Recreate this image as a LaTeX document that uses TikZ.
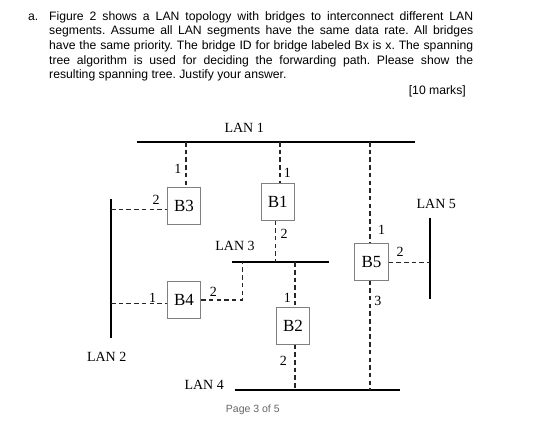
\documentclass[tikz,border=0pt]{standalone}
\usepackage{fontspec}
\setmainfont{Liberation Serif}
\newfontfamily\arialf{Liberation Sans}
\frenchspacing
\begin{document}
\begin{tikzpicture}[x=1pt,y=-1pt,
  lan/.style={line width=2pt},
  link/.style={line width=1.2pt, dash pattern=on 4.5pt off 3.2pt, draw=black!85},
  bridge/.style={draw=black!50, line width=0.8pt, fill=white, minimum width=33.4pt, minimum height=36.8pt, inner sep=0pt, font=\fontsize{17}{17}\selectfont},
  lanlbl/.style={font=\fontsize{14}{14}\selectfont, inner sep=0pt},
  port/.style={font=\fontsize{14}{14}\selectfont, inner sep=0pt},
  para/.style={font=\arialf\fontsize{12.2}{14.6}\selectfont, inner sep=0pt},
  pagelbl/.style={font=\arialf\fontsize{10.5}{12}\selectfont, text=black!60, inner sep=0pt}
]
\useasboundingbox (0,0) rectangle (546,424);

% question text
\node[para, anchor=base west] (qa) at (28,20) {a.};
\node[para, anchor=north west, text width=424pt, align=justify] (q) at (49,11.2)
 {Figure 2 shows a LAN topology with bridges to interconnect different LAN\linebreak
  segments. Assume all LAN segments have the same data rate. All bridges\linebreak
  have the same priority. The bridge ID for bridge labeled Bx is x. The spanning\linebreak
  tree algorithm is used for deciding the forwarding path. Please show the\linebreak
  resulting spanning tree. Justify your answer.};
\node[para, anchor=base east] (marks) at (466,94.5) {[10 marks]};

% LAN segments
\coordinate (l1a) at (137,142); \coordinate (l1b) at (415,142);
\coordinate (l2a) at (111,199); \coordinate (l2b) at (111,337.5);
\coordinate (l3a) at (232,262.3); \coordinate (l3b) at (328.5,262.3);
\coordinate (l4a) at (235,390); \coordinate (l4b) at (399.5,390);
\coordinate (l5a) at (430,217.7); \coordinate (l5b) at (430,299.3);
\draw[lan] (l1a) -- (l1b);
\draw[lan] (l2a) -- (l2b);
\draw[lan] (l3a) -- (l3b);
\draw[lan] (l4a) -- (l4b);
\draw[lan] (l5a) -- (l5b);

\node[lanlbl] (t1) at (244.2,127.7) {LAN 1};
\node[lanlbl] (t2) at (106.7,357.3) {LAN 2};
\node[lanlbl] (t3) at (235,245.7) {LAN 3};
\node[lanlbl] (t4) at (204.2,384.8) {LAN 4};
\node[lanlbl] (t5) at (436.3,203.7) {LAN 5};

% bridges
\node[bridge] (b3) at (184,205.8) {B3};
\node[bridge] (b1) at (277.8,201.7) {B1};
\node[bridge] (b4) at (184,300) {B4};
\node[bridge] (b2) at (293,325.8) {B2};
\node[bridge] (b5) at (371.5,261.7) {B5};

% attachment points on the LANs
\coordinate (p31) at (186,142);
\coordinate (p32) at (111,209.3);
\coordinate (p11) at (280,142);
\coordinate (p12) at (275.7,262.3);
\coordinate (p41) at (111,303.3);
\coordinate (p42) at (242.3,262.3);
\coordinate (p21) at (295,262.3);
\coordinate (p22) at (295,390);
\coordinate (p51) at (370,142);
\coordinate (p52) at (430,262.3);
\coordinate (p53) at (370,390);

% links
\draw[link] (p31) -- (p31 |- b3.north);
\draw[link] (p32) -- (p32 -| b3.west);
\draw[link] (p11) -- (p11 |- b1.north);
\draw[link] (b1.south -| p12) -- (p12);
\draw[link] (p41) -- (p41 -| b4.west);
\draw[link] (b4.east) -- (b4.east -| p42) -- (p42);
\draw[link] (p21) -- (p21 |- b2.north);
\draw[link] (b2.south -| p22) -- (p22);
\draw[link] (p51) -- (p51 |- b5.north);
\draw[link] (b5.east |- p52) -- (p52);
\draw[link] (b5.south -| p53) -- (p53);

% port numbers
\node[port] (n31) at (177.8,168.8) {1};
\node[port] (n32) at (156,199.5) {2};
\node[port] (n11) at (287.3,173.2) {1};
\node[port] (n12) at (284,234) {2};
\node[port] (n41) at (152.7,298) {1};
\node[port] (n42) at (213.3,292.3) {2};
\node[port] (n21) at (287.3,297.7) {1};
\node[port] (n22) at (283.3,361) {2};
\node[port] (n51) at (381.7,230.3) {1};
\node[port] (n52) at (400,252.3) {2};
\node[port] (n53) at (377.8,301) {3};

\node[pagelbl] (pg) at (252.8,410) {Page 3 of 5};
\end{tikzpicture}
\end{document}
